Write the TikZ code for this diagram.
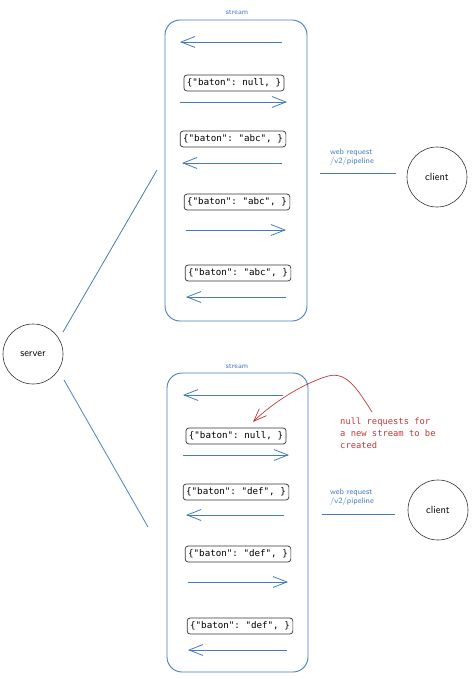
\documentclass[tikz,border=0pt]{standalone}
\usepackage{fontspec}
\setmonofont{DejaVu Sans Mono}
\usetikzlibrary{arrows.meta}
\definecolor{sblue}{RGB}{70,125,185}
\definecolor{sred}{RGB}{200,55,55}
\definecolor{sgray}{RGB}{50,50,50}
\tikzset{
  streambox/.style={draw=sblue, line width=0.9pt, rounded corners=15pt},
  baton/.style={draw=sgray, line width=0.7pt, rounded corners=3pt, font=\ttfamily\fontsize{9.2}{10}\selectfont, text=black, inner xsep=3pt, inner ysep=2pt, minimum height=16pt},
  flow/.style={draw=sblue, line width=0.8pt, -{Straight Barb[length=14pt,width=11pt]}},
  plain/.style={draw=sblue, line width=0.8pt},
  circ/.style={circle, draw=sgray, line width=0.6pt, minimum size=60pt, inner sep=0pt, font=\sffamily\fontsize{10.5}{12}\selectfont},
  smalllab/.style={text=sblue, font=\sffamily\fontsize{7.5}{8}\selectfont, inner sep=1pt},
  weblab/.style={text=sblue, font=\sffamily\fontsize{8}{9.5}\selectfont, align=left, inner sep=0pt, anchor=south west},
  note/.style={text=sred, font=\ttfamily\fontsize{8.8}{12}\selectfont, align=left, inner sep=0pt, anchor=north west}
}
\begin{document}
\begin{tikzpicture}[x=1pt,y=-1pt]
\useasboundingbox (0,0) rectangle (474,679);
% top stream
\node[smalllab] (st1) at (237,12) {stream};
\draw[streambox] (165,20) rectangle (307,321);
\coordinate (a1s) at (282,42); \coordinate (a1e) at (180,42);
\draw[flow] (a1s) -- (a1e);
\node[baton] (b1) at (234,83) {\{"baton": null, \}};
\coordinate (a2s) at (180,102); \coordinate (a2e) at (287,102);
\draw[flow] (a2s) -- (a2e);
\node[baton] (b2) at (233,139) {\{"baton": "abc", \}};
\coordinate (a3s) at (282,163); \coordinate (a3e) at (182,163);
\draw[flow] (a3s) -- (a3e);
\node[baton] (b3) at (237,202) {\{"baton": "abc", \}};
\coordinate (a4s) at (186,230); \coordinate (a4e) at (286,230);
\draw[flow] (a4s) -- (a4e);
\node[baton] (b4) at (238,273) {\{"baton": "abc", \}};
\coordinate (a5s) at (286,297); \coordinate (a5e) at (186,297);
\draw[flow] (a5s) -- (a5e);
% top client
\node[weblab] (w1) at (330,166) {web request\\/v2/pipeline};
\coordinate (l1s) at (320,173); \coordinate (l1e) at (396,173);
\draw[plain] (l1s) -- (l1e);
\node[circ] (c1) at (437,177) {client};
% server
\node[circ] (srv) at (33,354) {server};
\coordinate (s1s) at (63,332); \coordinate (s1e) at (157,170);
\draw[plain] (s1s) -- (s1e);
\coordinate (s2s) at (64,380); \coordinate (s2e) at (148,527);
\draw[plain] (s2s) -- (s2e);
% bottom stream
\node[smalllab] (st2) at (237,366) {stream};
\draw[streambox] (167,373) rectangle (308,672);
\coordinate (d1s) at (283,395); \coordinate (d1e) at (183,395);
\draw[flow] (d1s) -- (d1e);
\node[baton] (e1) at (236,436) {\{"baton": null, \}};
\coordinate (d2s) at (183,455); \coordinate (d2e) at (289,455);
\draw[flow] (d2s) -- (d2e);
\node[baton] (e2) at (236,492) {\{"baton": "def", \}};
\coordinate (d3s) at (284,515); \coordinate (d3e) at (186,515);
\draw[flow] (d3s) -- (d3e);
\node[baton] (e3) at (238,554) {\{"baton": "def", \}};
\coordinate (d4s) at (188,582); \coordinate (d4e) at (288,582);
\draw[flow] (d4s) -- (d4e);
\node[baton] (e4) at (240,626) {\{"baton": "def", \}};
\coordinate (d5s) at (287,650); \coordinate (d5e) at (188,650);
\draw[flow] (d5s) -- (d5e);
% note
\coordinate (rs) at (372,412); \coordinate (re) at (253,422);
\draw[draw=sred, line width=0.7pt, -{Straight Barb[length=13pt,width=10pt]}]
  (rs) .. controls (355,385) and (345,370) .. (325,377)
  .. controls (300,385) and (270,405) .. (re);
\node[note] (n1) at (340,418) {null requests for\\a new stream to be\\created};
% bottom client
\node[weblab] (w2) at (330,506) {web request\\/v2/pipeline};
\coordinate (l2s) at (322,514); \coordinate (l2e) at (395,514);
\draw[plain] (l2s) -- (l2e);
\node[circ] (c2) at (438,510) {client};
\end{tikzpicture}
\end{document}
